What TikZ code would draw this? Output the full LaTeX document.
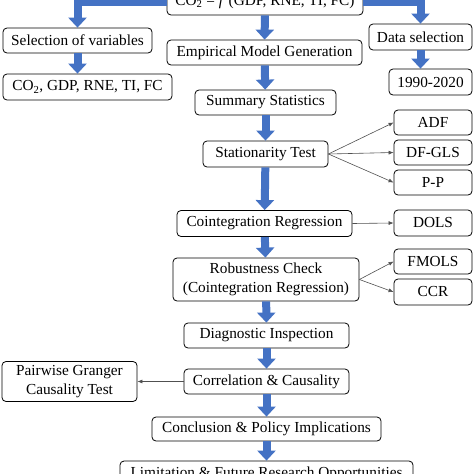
\documentclass[tikz,border=0pt]{standalone}
\usepackage{fontspec}
\setmainfont{Liberation Serif}
\usetikzlibrary{arrows.meta}
\definecolor{flowblue}{RGB}{68,114,196}
\definecolor{linegray}{RGB}{80,80,80}

\begin{document}
\begin{tikzpicture}[x=1pt, y=-1pt,
    box/.style={draw, rounded corners=4pt, line width=0.8pt, inner sep=0pt, minimum height=25pt, align=center, font=\fontsize{15.3}{19}\selectfont},
    bigarrow/.style={draw=flowblue, line width=8pt, -{Triangle[length=10pt, width=18pt]}},
    thinarrow/.style={draw=linegray, line width=0.6pt, -{Latex[length=5pt, width=4pt]}}]
    \useasboundingbox (0,0) rectangle (474,474);
    % Main column
    \node[box, minimum width=196pt, minimum height=26pt] (model) at (265,2) {CO\textsubscript{2} = \textit{f} (GDP, RNE, TI, FC)};
    \node[box, minimum width=195pt] (empirical) at (264.5,52.5) {Empirical Model Generation};
    \node[box, minimum width=141pt] (summary) at (265.5,102.5) {Summary Statistics};
    \node[box, minimum width=125pt, minimum height=26pt] (station) at (265.5,154) {Stationarity Test};
    \node[box, minimum width=175pt, minimum height=26pt] (coint) at (264.5,223.5) {Cointegration Regression};
    \node[box, minimum width=186pt, minimum height=43pt] (robust) at (266,279.5) {Robustness Check\\(Cointegration Regression)};
    \node[box, minimum width=165pt] (diag) at (266.5,335.5) {Diagnostic Inspection};
    \node[box, minimum width=165pt] (corr) at (266.5,381.5) {Correlation \& Causality};
    \node[box, minimum width=229pt, minimum height=24pt] (concl) at (266.5,429) {Conclusion \& Policy Implications};
    \node[box, minimum width=293pt] (limit) at (266.5,473.5) {Limitation \& Future Research Opportunities};

    % Left branch
    \node[box, minimum width=149pt] (selvar) at (77.5,40.5) {Selection of variables};
    \node[box, minimum width=169pt, minimum height=26pt] (vars) at (87.5,87) {CO\textsubscript{2}, GDP, RNE, TI, FC};
    \node[box, minimum width=135pt, minimum height=40pt] (granger) at (69.5,381.5) {Pairwise Granger\\Causality Test};

    % Right branch
    \node[box, minimum width=103pt, minimum height=26pt] (datasel) at (420.5,37) {Data selection};
    \node[box, minimum width=83pt, minimum height=26pt] (years) at (430.5,82) {1990-2020};
    \node[box, minimum width=78pt] (adf) at (433,122.5) {ADF};
    \node[box, minimum width=78pt] (dfgls) at (433,152.5) {DF-GLS};
    \node[box, minimum width=78pt] (pp) at (433,182.5) {P-P};
    \node[box, minimum width=78pt, minimum height=26pt] (dols) at (433,223) {DOLS};
    \node[box, minimum width=78pt] (fmols) at (433,261.5) {FMOLS};
    \node[box, minimum width=78pt, minimum height=26pt] (ccr) at (433,292) {CCR};

    % Thick flow arrows
    \draw[bigarrow] (model.west) -| (selvar.north);
    \draw[bigarrow] (model.east) -| (datasel.north);
    \draw[bigarrow] (selvar) -- (selvar |- vars.north);
    \draw[bigarrow] (datasel) -- (datasel |- years.north);
    \draw[bigarrow] (model) -- (empirical);
    \draw[bigarrow] (empirical) -- (summary);
    \draw[bigarrow] (summary) -- (station);
    \draw[bigarrow] (station) -- (coint);
    \draw[bigarrow] (coint) -- (robust);
    \draw[bigarrow] (robust) -- (diag);
    \draw[bigarrow] (diag) -- (corr);
    \draw[bigarrow] (corr) -- (concl);
    \draw[bigarrow] (concl) -- (limit);

    % Thin side arrows
    \draw[thinarrow] (station.east) -- (adf.west);
    \draw[thinarrow] (station.east) -- (dfgls.west);
    \draw[thinarrow] (station.east) -- (pp.west);
    \draw[thinarrow] (coint.east) -- (dols.west);
    \draw[thinarrow] (robust.east) -- (fmols.west);
    \draw[thinarrow] (robust.east) -- (ccr.west);
    \draw[thinarrow] (corr.west) -- (granger.east);
\end{tikzpicture}
\end{document}
